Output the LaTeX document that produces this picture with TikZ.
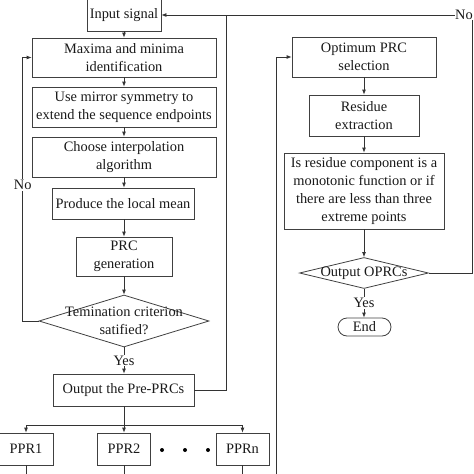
\documentclass[tikz,border=0pt]{standalone}
\usepackage{fontspec}
\setmainfont{Liberation Serif}
\usetikzlibrary{shapes.geometric,arrows.meta}
\begin{document}
\begin{tikzpicture}[x=1pt,y=-1pt,
  every node/.style={font=\fontsize{14.4}{18}\selectfont, text=black!90},
  box/.style={draw=black!75, line width=0.8pt, rectangle, align=center, inner sep=0pt},
  dia/.style={draw=black!75, line width=0.8pt, diamond, inner sep=0pt},
  lbl/.style={fill=white, inner sep=1pt},
  ln/.style={draw=black!80, line width=0.8pt},
  arr/.style={ln, -{Latex[length=5pt,width=4pt]}}]
\useasboundingbox (0,0) rectangle (474,474);
% left column
\node[box, minimum width=74pt, minimum height=32pt] (in) at (124,15) {Input signal};
\node[box, minimum width=184pt, minimum height=39pt] (max) at (124,57.5) {Maxima and minima\\identification};
\node[box, minimum width=184pt, minimum height=40pt] (mir) at (124,107) {Use mirror symmetry to\\extend the sequence endpoints};
\node[box, minimum width=184pt, minimum height=40pt] (cho) at (124,157) {Choose interpolation\\algorithm};
\node[box, minimum width=142pt, minimum height=31pt] (loc) at (123,203.5) {Produce the local mean};
\node[box, minimum width=96pt, minimum height=39pt] (prc) at (124,256.5) {PRC\\generation};
\node[dia, minimum width=170pt, minimum height=52pt] (crit) at (124,321) {};
\node[align=center] (critt) at (crit) {Temination criterion\\satified?};
\node[box, minimum width=141pt, minimum height=32pt] (out) at (123.5,390) {Output the Pre-PRCs};
\coordinate (split) at (124,425);
\node[box, minimum width=54pt, minimum height=32pt] (p1) at (26,449) {PPR1};
\node[box, minimum width=53pt, minimum height=32pt] (p2) at (124,449) {PPR2};
\node[box, minimum width=53pt, minimum height=32pt] (pn) at (242.5,449) {PPRn};
\foreach \xx/\nm in {162/d1,185/d2,208/d3}
  \node[circle, fill=black, inner sep=0pt, minimum size=4pt] (\nm) at (\xx,450) {};
% right column
\node[box, minimum width=144pt, minimum height=40pt] (opt) at (364,57) {Optimum PRC\\selection};
\node[box, minimum width=110pt, minimum height=41pt] (res) at (364,115.5) {Residue\\extraction};
\node[box, minimum width=160pt, minimum height=76pt] (isr) at (364,191) {Is residue component is a\\monotonic function or if\\there are less than three\\extreme points};
\node[dia, minimum width=129pt, minimum height=31pt] (odia) at (364,273) {};
\node (odiat) at (odia) {Output OPRCs};
\node[box, rounded corners=9pt, minimum width=53pt, minimum height=18pt] (end) at (364.5,327) {End};
% coordinates
\coordinate (topR) at (472,15);
\coordinate (topM) at (226,15);
\coordinate (rR) at (472,273);
\coordinate (lL1) at (22.7,321);
\coordinate (lL2) at (22.7,57.5);
\coordinate (mR1) at (276,480);
\coordinate (mR2) at (276,57);
\coordinate (b1) at (26,480);
\coordinate (b2) at (124,480);
\coordinate (b3) at (242.5,480);
\coordinate (s1) at (26,425);
\coordinate (s3) at (242.5,425);
% connectors left
\draw[arr] (in) -- (max);
\draw[arr] (max) -- (mir);
\draw[arr] (mir) -- (cho);
\draw[arr] (cho.south) -- (cho.south |- loc.north);
\draw[arr] (loc.south -| prc.north) -- (prc.north);
\draw[arr] (prc) -- (crit);
\draw[arr] (crit.south) -- node[lbl, pos=0.5] (yes1) {Yes} (out.north -| crit.south);
\draw[ln] (out.south -| split) -- (split);
\draw[ln] (s1) -- (s3);
\draw[arr] (s1) -- (p1);
\draw[arr] (split) -- (p2);
\draw[arr] (s3) -- (pn);
\draw[ln] (p1) -- (b1);
\draw[ln] (p2) -- (b2);
\draw[ln] (pn) -- (b3);
\draw[arr] (crit.west) -- (lL1) -- node[lbl, pos=0.517] (no1) {No} (lL2) -- (max.west);
\draw[ln] (out.east) -| (topM);
% connectors right
\draw[arr] (mR1) -- (mR2) -- (opt.west);
\draw[arr] (opt) -- (res);
\draw[arr] (res) -- (isr);
\draw[arr] (isr) -- (odia);
\draw[arr] (odia.south) -- node[lbl, pos=0.5] (yes2) {Yes} (end.north -| odia.south);
\draw[arr] (odia.east) -- (rR) -- (topR) -- (in.east);
\node[lbl, inner sep=0.5pt] (no2) at (464,15) {No};
\end{tikzpicture}
\end{document}
